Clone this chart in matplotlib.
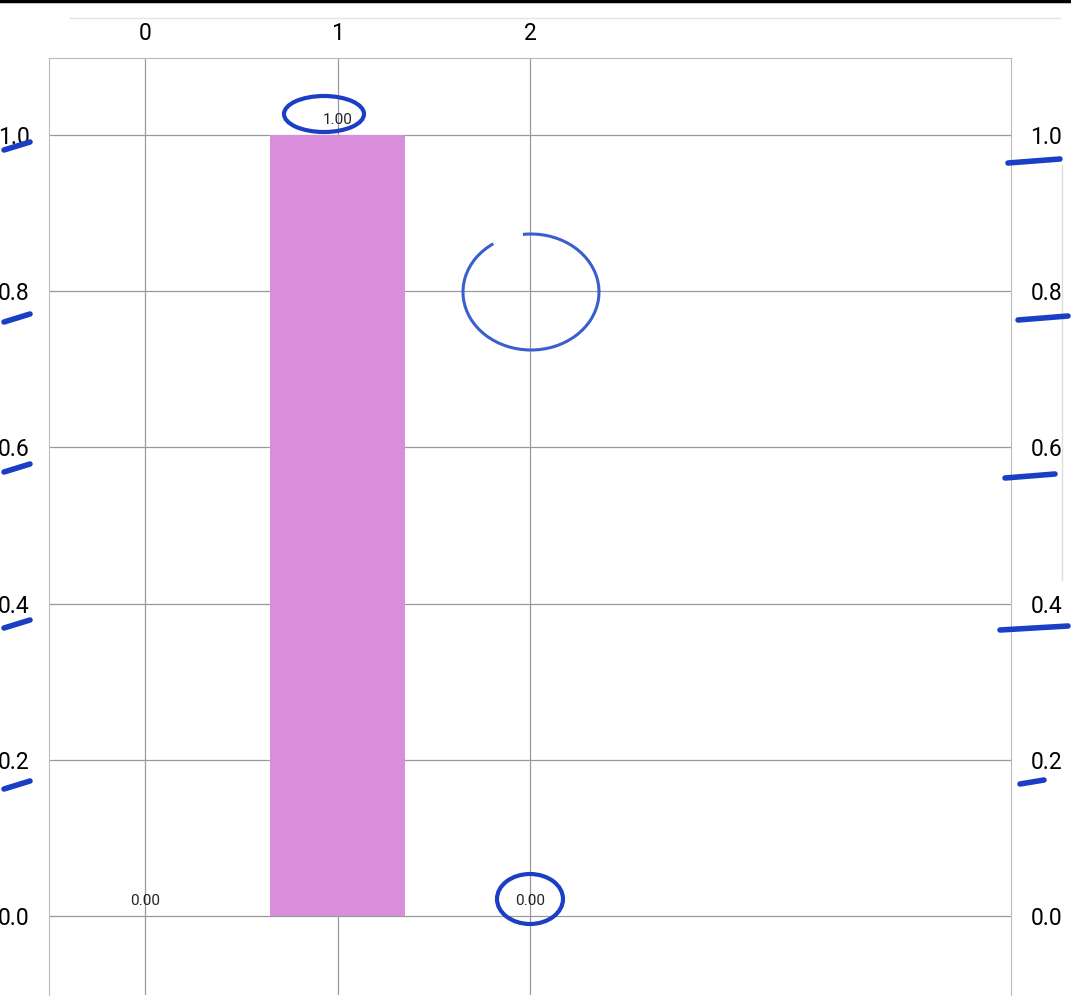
import numpy as np
import matplotlib
matplotlib.use("Agg")
import matplotlib.pyplot as plt
from matplotlib.patches import Ellipse, Arc

plt.rcParams['font.family'] = ['Roboto', 'DejaVu Sans']

# data
categories = [0, 1, 2]
values = [0.0, 1.0, 0.0]
y_ticks = [0.0, 0.2, 0.4, 0.6, 0.8, 1.0]

W, H = 1071, 1008
fig = plt.figure(figsize=(W / 100, H / 100), dpi=100)

# main axes placed to match the screenshot
ax = fig.add_axes([49 / W, 1 - 995 / H, 962 / W, 937 / H])
ax.bar(categories, values, width=0.7, color='#d98edb', zorder=2)
for x, v in zip(categories, values):
    ax.text(x, v + 0.01, f"{v:.2f}", ha='center', va='bottom', fontsize=11, color='#222222', zorder=3)

ax.set_xlim(-0.5, 4.5)
ax.set_ylim(-0.101, 1.0986)
ax.set_xticks(categories)
ax.set_yticks(y_ticks)
ax.set_yticklabels([f"{t:.1f}" for t in y_ticks])
ax.xaxis.tick_top()
ax.tick_params(axis='x', length=0, pad=9.5, labelsize=16.5)
ax.tick_params(axis='y', length=0, labelsize=16.5, left=True, right=True,
               labelleft=True, labelright=True, pad=14)
ax.grid(True, color='#9a9a9a', linewidth=0.9, zorder=0)
for side in ['left', 'right', 'top']:
    ax.spines[side].set_color('#bbbbbb')
ax.spines['bottom'].set_visible(False)

# overlay for the screenshot frame and the ink marks
ov = fig.add_axes([0, 0, 1, 1], facecolor='none')
ov.set_xlim(0, W)
ov.set_ylim(H, 0)
ov.axis('off')
ov.plot([0, W], [1, 1], color='black', linewidth=2.5)
ov.plot([70, 1060], [18, 18], color='#e4e4e4', linewidth=1)
ov.plot([1062, 1062], [165, 580], color='#dddddd', linewidth=1)

ink = '#1a3fc4'
ov.add_patch(Ellipse((324, 114), 80, 36, fill=False, edgecolor=ink, linewidth=3))
ov.add_patch(Ellipse((530, 899), 66, 50, fill=False, edgecolor=ink, linewidth=3))
ov.add_patch(Arc((531, 292), 136, 116, theta1=262, theta2=592, edgecolor='#3a5fcc', linewidth=2.2))
for y in [146, 318, 468, 624, 785]:
    ov.plot([4, 30], [y + 4, y - 4], color=ink, linewidth=4, solid_capstyle='round')
for y, x0, x1 in [(161, 1008, 1060), (318, 1018, 1068), (476, 1005, 1055), (628, 1000, 1068), (782, 1020, 1044)]:
    ov.plot([x0, x1], [y + 2, y - 2], color=ink, linewidth=4, solid_capstyle='round')

fig.savefig("out.png", dpi=100)
